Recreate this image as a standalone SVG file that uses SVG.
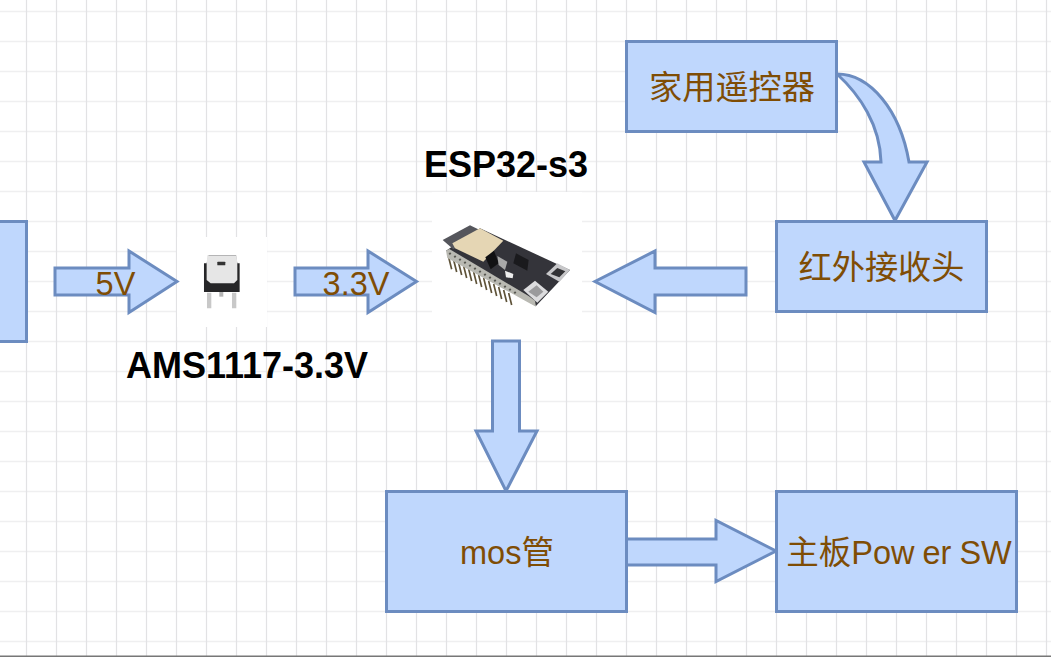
<svg xmlns="http://www.w3.org/2000/svg" width="1051" height="657" viewBox="0 0 1051 657">
<style>
.gv{stroke:#e2e2e4;stroke-width:1.2;fill:none}
.gh{stroke:#efeff0;stroke-width:1.6;fill:none}
.s{fill:#bfd7fd;stroke:#6c8cc0;stroke-width:3;stroke-linejoin:miter}
.t{font-family:"Liberation Sans","Noto Sans CJK SC",sans-serif;font-size:32.5px;fill:#7f4d05;text-anchor:middle}
.c{font-size:33.200px}
.b{font-family:"Liberation Sans",Arial,sans-serif;font-size:36px;font-weight:bold;fill:#000;text-anchor:middle}
</style>
<rect width="1051" height="657" fill="#fff"/>
<g id="grid">
<path class="gh" d="M0 11.5H1051M0 41.5H1051M0 71.5H1051M0 101.5H1051M0 131.5H1051M0 161.5H1051M0 191.5H1051M0 221.5H1051M0 251.5H1051M0 281.5H1051M0 311.5H1051M0 341.5H1051M0 371.5H1051M0 401.5H1051M0 431.5H1051M0 461.5H1051M0 491.5H1051M0 521.5H1051M0 551.5H1051M0 581.5H1051M0 611.5H1051M0 641.5H1051"/>
<path class="gv" d="M26.5 0V657M56.5 0V657M86.5 0V657M116.5 0V657M146.5 0V657M176.5 0V657M206.5 0V657M236.5 0V657M266.5 0V657M296.5 0V657M326.5 0V657M356.5 0V657M386.5 0V657M416.5 0V657M446.5 0V657M476.5 0V657M506.5 0V657M536.5 0V657M566.5 0V657M596.5 0V657M626.5 0V657M656.5 0V657M686.5 0V657M716.5 0V657M746.5 0V657M776.5 0V657M806.5 0V657M836.5 0V657M866.5 0V657M896.5 0V657M926.5 0V657M956.5 0V657M986.5 0V657M1016.5 0V657M1046.5 0V657"/>
<rect x="0" y="655.500" width="1051" height="1.500" fill="#777"/>
</g>
<g id="ams1117-image">
<rect x="177" y="237" width="90" height="90" fill="#fff"/>
<g transform="translate(0 200) scale(.3333)">
<path d="M621 278h13v47h-13zM696 278h13v47h-13z" fill="#c8c8c8"/>
<rect x="658" y="276" width="12" height="14" fill="#b5b5b5"/>
<path d="M612 190H620L626 165H708L712 190H719V276H612Z" fill="#262628"/>
<path d="M622 166H710L712 190V240L702 250H632L620 240V190Z" fill="#e6e6e6"/>
<rect x="652" y="185" width="24" height="11" rx="2" fill="#333"/>
</g>
</g>
<g id="esp32-image">
<rect x="432" y="192" width="150" height="149" fill="#fff"/>
<g transform="translate(420 180) scale(.3333)">
<path d="M86 232l9 36M101 240l9 36M116 249l9 36M131 258l9 36M146 267l9 36M161 276l9 36M176 285l9 36M191 294l9 36M206 303l9 36M221 312l9 36M236 321l9 36M251 330l9 36M266 339l9 36" stroke="#5e5238" stroke-width="5" fill="none"/>
<path d="M78 212L180 145L450 270L348 378L320 362Z" fill="#34343a"/>
<path d="M78 212L88 207L326 348L345 362L348 380L322 366L82 234Z" fill="#b9b9b2"/>
<path d="M88 219l4 4M103 228l4 4M118 237l4 4M133 246l4 4M148 255l4 4M163 264l4 4M178 273l4 4M193 282l4 4M208 291l4 4M223 300l4 4M238 309l4 4M253 318l4 4M268 327l4 4M283 336l4 4" stroke="#55554f" stroke-width="6" fill="none"/>
<path d="M68 180L150 136L190 155L100 208Z" fill="#55565c"/>
<path d="M97 190L180 145L250 182L190 245L105 205Z" fill="#e5d6b4"/>
<path d="M196 232L222 212L236 250L212 268Z" fill="#111113"/>
<path d="M232 228L262 245L255 270L236 255Z" fill="#a8a8a8"/>
<path d="M255 272L280 282L278 295L258 292Z" fill="#ededed"/>
<path d="M288 220L326 240L322 272L280 250Z" fill="#1a1a1d"/>
<path d="M378 282L412 250L450 270L418 305Z" fill="#c8c8ca"/>
<path d="M392 282L412 264L436 274L418 292Z" fill="#333336"/>
<path d="M310 330L345 302L385 335L352 368Z" fill="#dcdcde"/>
<path d="M325 335L350 316L370 335L350 352Z" fill="#9a9a9c"/>
</g>
</g>
<g id="connectors">
<path class="s" d="M55 268H129V251L177 281.5L129 312.5V295H55Z"/>
<path class="s" d="M295 268H368V251L416.500 281.500L368 312.500V295H295Z"/>
<path class="s" d="M746 268H655V251L595 281.500L655 312.500V295H746Z"/>
<path class="s" d="M492.500 341H519.500V431H537L506 491L476 431H492.500Z"/>
<path class="s" d="M626 539H716V520.500L776 551L716 581.500V565H626Z"/>
<path class="s" d="M837 74C870 74 900 110 909 162H927L895 220.500L864 162H881C880 125 860 95 837 74Z"/>
</g>
<g id="node-left"><rect class="s" x="-6" y="221.500" width="32.500" height="120"/></g>
<g id="node-remote"><rect class="s" x="626.500" y="41.500" width="210" height="90"/><text class="t c" x="732" y="99">家用遥控器</text></g>
<g id="node-ir"><rect class="s" x="776.500" y="221.500" width="210" height="90"/><text class="t c" x="881.500" y="279">红外接收头</text></g>
<g id="node-mos"><rect class="s" x="386.500" y="491.500" width="240" height="120"/><text class="t" x="507" y="564">mos管</text></g>
<g id="node-sw"><rect class="s" x="776.500" y="491.500" width="240" height="120"/><text class="t" x="899" y="564" word-spacing="-1">主板Pow er SW</text></g>
<g id="labels">
<text class="t" x="115.500" y="295">5V</text>
<text class="t" x="356" y="295">3.3V</text>
<text class="b" x="247" y="378">AMS1117-3.3V</text>
<text class="b" x="506" y="177">ESP32-s3</text>
</g>
</svg>
